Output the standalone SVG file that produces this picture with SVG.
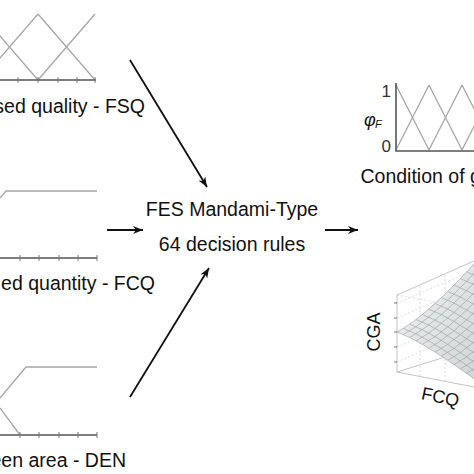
<svg xmlns="http://www.w3.org/2000/svg" width="474" height="474" viewBox="0 0 474 474">
<style>
text{font-family:"Liberation Sans",Arial,sans-serif;fill:#111}
.lbl{font-size:19.5px}
.mf{fill:none;stroke:#a6a6a6;stroke-width:1.3}
.ax{fill:none;stroke:#555;stroke-width:1.6}
.tk{fill:none;stroke:#777;stroke-width:1}
.conn{fill:none;stroke:#111;stroke-width:1.8}
.mesh{fill:none;stroke:#97a0a0;stroke-width:0.6}
.box{fill:none;stroke:#c4c4c4;stroke-width:1}
.grid{fill:none;stroke:#d2d2d2;stroke-width:0.8;stroke-dasharray:2 2}
</style>
<defs>
<marker id="ah" markerWidth="12" markerHeight="10" refX="10" refY="4" orient="auto" markerUnits="userSpaceOnUse">
<path d="M0,0 L10,4 L0,8 L3,4 z" fill="#111"/>
</marker>
<linearGradient id="sg" x1="0" y1="0" x2="1" y2="1">
<stop offset="0" stop-color="#f1f4f4"/>
<stop offset="1" stop-color="#cdd3d3"/>
</linearGradient>
</defs>

<g id="fsq-plot">
<path class="mf" d="M-19,14 L38,80 M-19,80 L38,14 M38,14 L95,80 M38,80 L95,14"/>
<path class="ax" d="M0,80 H96"/>
<path class="tk" d="M18,77 V83 M38,77 V83 M58,77 V83 M77,77 V83 M95,77 V83"/>
<text class="lbl" x="145" y="113" text-anchor="end">sed quality - FSQ</text>
</g>

<g id="fcq-plot">
<path class="mf" d="M0,198 L6,191 H97"/>
<path class="ax" d="M0,258 H97"/>
<path class="tk" d="M20,255 V261 M39,255 V261 M59,255 V261 M78,255 V261 M97,255 V261"/>
<text class="lbl" x="155" y="290" text-anchor="end">ed quantity - FCQ</text>
</g>

<g id="den-plot">
<path class="mf" d="M0,398 L26,367 H97 M0,408 L20,435"/>
<path class="ax" d="M0,435 H97"/>
<path class="tk" d="M20,432 V438 M39,432 V438 M59,432 V438 M78,432 V438 M97,432 V438"/>
<text class="lbl" x="126" y="467" text-anchor="end">een area - DEN</text>
</g>

<g id="fes">
<text class="lbl" x="232" y="216" text-anchor="middle">FES Mandami-Type</text>
<text class="lbl" x="232" y="251" text-anchor="middle">64 decision rules</text>
</g>

<g id="cga-mf">
<path class="mf" d="M396,85 L429,150 M396,150 L429,85 M429,85 L462,150 M429,150 L462,85 M462,85 L495,150 M462,150 L495,85"/>
<path class="ax" d="M396,83 V151 H474"/>
<text x="391" y="97" text-anchor="end" style="font-size:17px;fill:#333">1</text>
<text x="391" y="152" text-anchor="end" style="font-size:17px;fill:#333">0</text>
<text x="364" y="126" style="font-size:18px;font-style:italic">φ</text>
<text x="375" y="128" style="font-size:11px;font-style:italic">F</text>
<text class="lbl" x="360.5" y="183">Condition of g</text>
</g>

<g id="surface-plot">
<path class="grid" d="M397,303 L474,270 M397,318 L474,285 M397,347 L474,314 M397,362 L474,329 M420,286 V377 M445,275 V382 M397,295 L474,310"/>
<path class="box" d="M397,295 V372 M397,295 L474,261 M397,372 L474,387 M397,372 L474,348"/>
<path class="tk" d="M394,303 H397 M394,318 H397 M394,332 H397 M394,347 H397 M394,362 H397"/>
<path d="M397,332 L409.7,324.2 L422.3,314.5 L435,303.5 L447.7,291.5 L460.3,278.6 L473,265 L485.7,250.7 L485.7,387.4 L473,378 L460.3,369 L447.7,360.3 L435,352.1 L422.3,344.4 L409.7,337.5 Z" fill="url(#sg)"/>
<path class="mesh" d="M397,332 L409.7,337.5 L422.3,344.4 L435,352.1 L447.7,360.3 L460.3,369 L473,378 L485.7,387.4
M409.7,324.2 L422.3,329.7 L435,336.6 L447.7,344.3 L460.3,352.5 L473,361.2 L485.7,370.2
M422.3,314.5 L435,320 L447.7,326.9 L460.3,334.6 L473,342.8 L485.7,351.5
M435,303.5 L447.7,309 L460.3,315.9 L473,323.6 L485.7,331.8
M447.7,291.5 L460.3,297 L473,303.9 L485.7,311.6
M460.3,278.6 L473,284.1 L485.7,291
M473,265 L485.7,270.5
M397,332 L409.7,324.2 L422.3,314.5 L435,303.5 L447.7,291.5 L460.3,278.6 L473,265 L485.7,250.7
M409.7,337.5 L422.3,329.7 L435,320 L447.7,309 L460.3,297 L473,284.1 L485.7,270.5
M422.3,344.4 L435,336.6 L447.7,326.9 L460.3,315.9 L473,303.9 L485.7,291
M435,352.1 L447.7,344.3 L460.3,334.6 L473,323.6 L485.7,311.6
M447.7,360.3 L460.3,352.5 L473,342.8 L485.7,331.8
M460.3,369 L473,361.2 L485.7,351.5
M473,378 L485.7,370.2
M403.3,328.4 L416,333.9 L428.7,340.8 L441.3,348.5 L454,356.7 L466.7,365.4 L479.3,374.4
M416,319.5 L428.7,325 L441.3,331.9 L454,339.6 L466.7,347.8 L479.3,356.5
M428.7,309.1 L441.3,314.6 L454,321.5 L466.7,329.2 L479.3,337.4
M441.3,297.6 L454,303.1 L466.7,310 L479.3,317.7
M454,285.2 L466.7,290.7 L479.3,297.6
M466.7,271.9 L479.3,277.4
M403.3,334.5 L416,326.7 L428.7,317 L441.3,306 L454,294 L466.7,281.1 L479.3,267.5
M416,340.9 L428.7,333.1 L441.3,323.4 L454,312.4 L466.7,300.4 L479.3,287.5
M428.7,348.2 L441.3,340.4 L454,330.7 L466.7,319.7 L479.3,307.7
M441.3,356.1 L454,348.3 L466.7,338.6 L479.3,327.6
M454,364.6 L466.7,356.8 L479.3,347.1
M466.7,373.4 L479.3,365.6"/>
<text x="380" y="332" text-anchor="middle" transform="rotate(-90 380 332)" style="font-size:18px">CGA</text>
<text x="439" y="403" text-anchor="middle" transform="rotate(12 439 403)" style="font-size:18px">FCQ</text>
</g>

<g id="connectors">
<path class="conn" d="M130,60 L207,187" marker-end="url(#ah)"/>
<path class="conn" d="M107,230 L143,230" marker-end="url(#ah)"/>
<path class="conn" d="M130,397 L209,268" marker-end="url(#ah)"/>
<path class="conn" d="M325,230 L358,230" marker-end="url(#ah)"/>
</g>
</svg>
